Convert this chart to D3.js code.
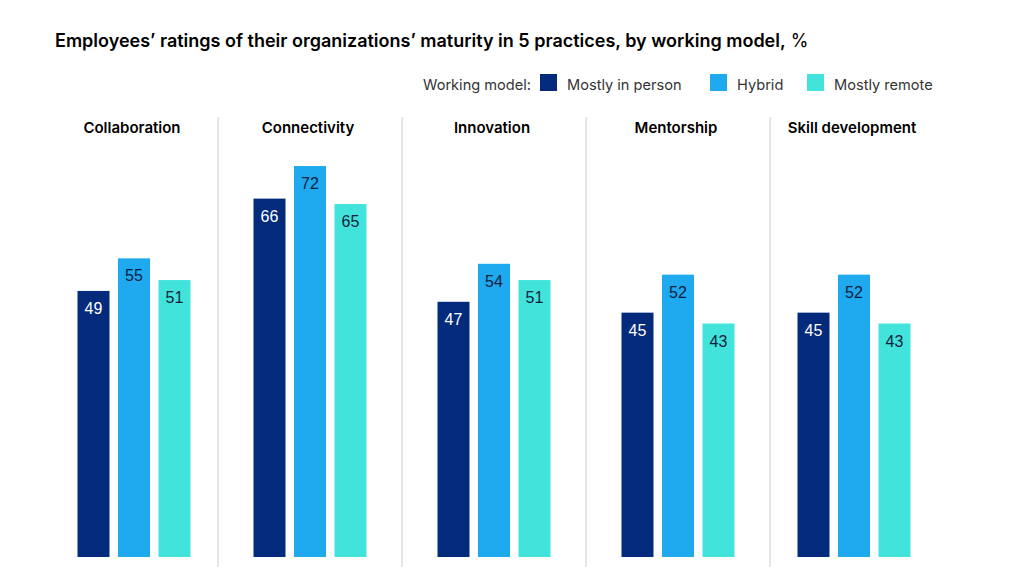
<!DOCTYPE html>
<html><head><meta charset="utf-8">
<script src="https://cdn.jsdelivr.net/npm/d3@7/dist/d3.min.js"></script>
<style>body{margin:0;background:#fff}svg{display:block}</style>
</head><body>
<svg id="c" width="1024" height="567"></svg>
<script>
const categories = ["Collaboration","Connectivity","Innovation","Mentorship","Skill development"];
const series = ["Mostly in person","Hybrid","Mostly remote"];
const inPerson = [49,66,47,45,45];
const hybrid = [55,72,54,52,52];
const remote = [51,65,51,43,43];
const values = [inPerson, hybrid, remote];
const colors = ["#032A7B","#1FA9EF","#41E3DA"];
const labelColors = ["#ffffff","#0B1E3C","#0B1E3C"];

const svg = d3.select("#c");
const W = 1024, H = 567;
const baseY = 557;

// panels (outer ones narrower)
const panelEdges = [50, 218, 402, 586, 770, 938];
const y = d3.scaleLinear().domain([0, 100]).range([baseY, baseY - 543]);

const title = svg.append("text").attr("x", 55).attr("y", 47)
  .attr("font-family", "Inter, 'Noto Sans', sans-serif")
  .attr("font-size", 18).attr("fill", "#000");
title.append("tspan").attr("font-weight", 600)
  .text("Employees’ ratings of their organizations’ maturity in 5 practices, by working model,");
title.append("tspan").attr("font-weight", 400).text(" %");

// legend
const lg = svg.append("g").attr("font-family", "Inter, 'Noto Sans', sans-serif").attr("font-size", 14.6).attr("fill", "#333");
lg.append("text").attr("x", 423).attr("y", 90).text("Working model:");
const legX = [540, 710, 807];
series.forEach((s, i) => {
  lg.append("rect").attr("x", legX[i]).attr("y", 74).attr("width", 17).attr("height", 17).attr("fill", colors[i]);
  lg.append("text").attr("x", legX[i] + 27).attr("y", 90).text(s);
});

// separators
svg.selectAll("line.sep").data(panelEdges.slice(1, 5)).join("line")
  .attr("x1", d => d).attr("x2", d => d).attr("y1", 117).attr("y2", H)
  .attr("stroke", "#d4d4d4").attr("stroke-width", 1.2);

categories.forEach((cat, ci) => {
  const cx = (panelEdges[ci] + panelEdges[ci + 1]) / 2;
  const x = d3.scaleBand().domain(series).range([cx - 56.5, cx + 56.5]).paddingInner(0.21).paddingOuter(0);
  svg.append("text").attr("x", cx - 2).attr("y", 133).attr("text-anchor", "middle")
    .attr("font-family", "Inter, 'Noto Sans', sans-serif").attr("font-weight", 600)
    .attr("font-size", 15).attr("fill", "#000").text(cat);
  series.forEach((s, si) => {
    const v = values[si][ci];
    svg.append("rect").attr("x", x(s)).attr("y", y(v)).attr("width", x.bandwidth())
      .attr("height", baseY - y(v)).attr("fill", colors[si]);
    svg.append("text").attr("x", x(s) + x.bandwidth() / 2).attr("y", y(v) + 23)
      .attr("text-anchor", "middle").attr("font-family", "'Liberation Sans', Arial, sans-serif")
      .attr("font-size", 16).attr("fill", labelColors[si]).text(v);
  });
});
</script>
</body></html>
